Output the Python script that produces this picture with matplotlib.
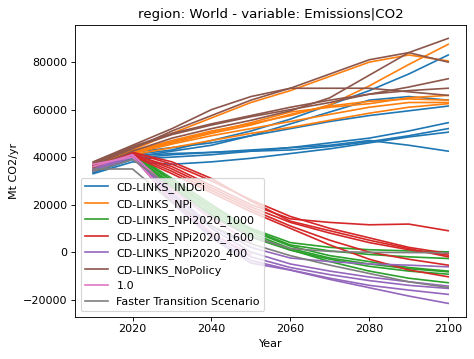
import numpy as np
import matplotlib
matplotlib.use('Agg')
import matplotlib.pyplot as plt

# Emissions|CO2 for World, Mt CO2/yr, one row per model run
years = [2010, 2020, 2030, 2040, 2050, 2060, 2070, 2080, 2090, 2100]
nan = np.nan

indci = [
    [35000, 41000, 43000, 47000, 51000, 56000, 62000, 68000, 75000, 83000],
    [34500, 40000, 42500, 45000, 49000, 54000, 59000, 64000, 65500, 64000],
    [36000, 42000, 44000, 46000, 49000, 52000, 55000, 57500, 59500, 61500],
    [33500, 39000, 40000, 41000, 42500, 44000, 46000, 48000, 51000, 54500],
    [35000, 40500, 41500, 42000, 42500, 43000, 44500, 46500, 49000, 52000],
    [34000, 39500, 41000, 42000, 43000, 44000, 45000, 47000, 45000, 42500],
    [33000, 38000, 37000, 38000, 39500, 41500, 43500, 46000, 48500, 50500],
]
npi = [
    [36000, 43000, 50000, 56500, 63000, 68000, 74000, 80000, 83000, 80500],
    [35500, 42500, 47000, 51000, 54000, 57500, 62000, 70000, 79000, 87500],
    [35000, 42000, 46000, 50000, 53500, 58000, 61500, 63500, 64500, 64000],
    [35000, 41500, 45500, 49000, 52000, 55000, 58000, 61000, 63000, 63000],
    [34500, 41000, 44000, 47000, 50000, 52500, 55500, 58500, 61000, 62500],
    [36500, 42000, 46500, 50500, 54500, 59000, 61000, 62500, 65000, 66000],
]
npi_1000 = [
    [35000, 41000, 30000, 19000, 10000, 4000, 2000, 1000, 500, 100],
    [35500, 41500, 31000, 20000, 9500, 3000, 500, -1000, -2000, -2700],
    [34500, 40500, 29000, 17000, 8000, 1500, -2500, -5000, -7000, -8300],
    [35000, 41000, 28000, 16000, 7000, 1000, -4000, -8000, -11000, -12900],
    [36000, 42000, 30000, 18000, 9000, 2500, -1500, -4000, -6500, -8000],
    [35000, 40000, 27500, 15500, 6300, 800, -3000, -6000, -8000, -9300],
]
npi_1600 = [
    [35000, 41000, 36000, 28000, 20000, 14000, 12500, 11500, 11800, 9000],
    [36000, 42000, 37000, 30000, 22000, 15000, 10000, 6000, 2000, -600],
    [35500, 41500, 35000, 27000, 19000, 12500, 8000, 4000, 1000, -1300],
    [35000, 41000, 34000, 26000, 18000, 11000, 5000, 0, -3000, -5500],
    [34500, 40500, 33000, 25000, 17000, 10000, 3000, -3000, -7500, -10400],
    [36000, 42000, 38000, 31000, 21500, 13000, 9000, 5000, 1500, -2000],
]
npi_400 = [
    [35000, 41000, 25000, 11000, 2000, -2500, -4000, -5000, -5500, -6200],
    [34500, 40500, 24000, 10000, 0, -5000, -8000, -10500, -12500, -14300],
    [35500, 41000, 23000, 8000, -2000, -6500, -9500, -12000, -14000, -15300],
    [34000, 40000, 22000, 7000, -3500, -7500, -11000, -14000, -16000, -17800],
    [35000, 40500, 21000, 6000, -4600, -7600, -11500, -15000, -18500, -21600],
]
nopolicy = [
    [36500, 43500, 51000, 57500, 64000, 69000, 75000, 81000, 84000, 80000],
    [35500, 42500, 48000, 52000, 55500, 59500, 65000, 74500, 84000, 90000],
    [38000, 45000, 52000, 60000, 65500, 69000, 69000, 69000, 67500, 66000],
    [37000, 44000, 49500, 53500, 57000, 60000, 63000, 66500, 69500, 73000],
    [37500, 44500, 50000, 54000, 57500, 61000, 64000, 66500, 68000, 69000],
]
one = [
    [37000, 40000, 22000, 8000, -1000, nan, nan, nan, nan, nan],
    [36000, 41000, 26000, 14000, 4000, nan, nan, nan, nan, nan],
]
faster = [
    [35000, 35000, 21000, 11000, 3500, -1500, -5500, -9000, -12500, -14900],
    [34000, 39000, 27000, 15000, 6500, 1500, 300, -100, -200, -300],
]

scenarios = ['CD-LINKS_INDCi', 'CD-LINKS_NPi', 'CD-LINKS_NPi2020_1000',
             'CD-LINKS_NPi2020_1600', 'CD-LINKS_NPi2020_400',
             'CD-LINKS_NoPolicy', '1.0', 'Faster Transition Scenario']
runs = [indci, npi, npi_1000, npi_1600, npi_400, nopolicy, one, faster]
colors = ['C0', 'C1', 'C2', 'C3', 'C4', 'C5', 'C6', 'C7']

fig = plt.figure(figsize=(474 / 80, 359 / 80), dpi=80)
ax = fig.add_axes([0.159, 0.118, 0.824, 0.812])

for name, lines, c in zip(scenarios, runs, colors):
    for i, vals in enumerate(lines):
        ax.plot(years, vals, color=c, label=name if i == 0 else None)

ax.set_title('region: World - variable: Emissions|CO2')
ax.set_xlabel('Year')
ax.set_ylabel('Mt CO2/yr')
ax.set_xticks([2020, 2040, 2060, 2080, 2100])
ax.legend(loc='lower left')

fig.savefig('out.png', dpi=80)
